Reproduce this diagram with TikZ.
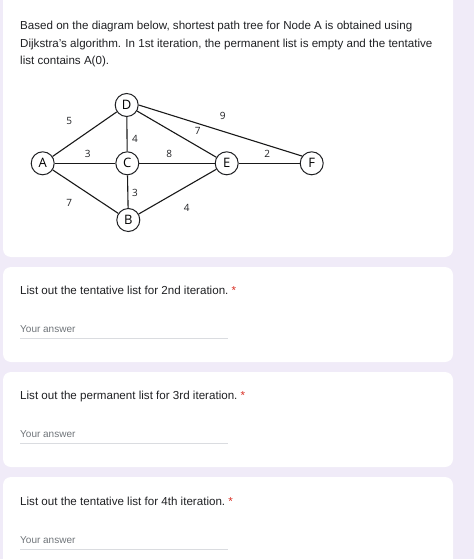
\documentclass[tikz,border=0pt]{standalone}
\usepackage{fontspec}
\setmainfont{Liberation Sans}
\newfontfamily\graphfont{Open Sans}
\usetikzlibrary{positioning}
\definecolor{formbg}{RGB}{240,235,248}
\definecolor{qtext}{RGB}{32,33,36}
\definecolor{hintgray}{RGB}{112,117,122}
\definecolor{rulegray}{RGB}{218,220,224}
\definecolor{starred}{RGB}{217,48,37}
\tikzset{
card/.style={
  fill=white,
  draw=none,
  rounded corners=8pt
  },
qline/.style={
  anchor=base west,
  inner sep=0pt,
  text=qtext,
  font=\fontsize{11.6}{13}\selectfont
  },
hint/.style={
  anchor=base west,
  inner sep=0pt,
  text=hintgray,
  font=\fontsize{10}{12}\selectfont
  },
vtx/.style={
  circle,
  draw=qtext,
  line width=1pt,
  fill=white,
  minimum size=23pt,
  inner sep=0pt,
  font=\graphfont\fontsize{13}{13}\selectfont
  },
wt/.style={
  inner sep=0pt,
  text=qtext,
  font=\graphfont\fontsize{10}{10}\selectfont
  },
edge/.style={
  draw=black!90,
  line width=1.1pt
  }
}
\newcommand{\req}{~\textcolor{starred}{*}}

\begin{document}
\begin{tikzpicture}[x=1pt,y=-1pt]
\useasboundingbox (0,0) rectangle (474,559);
\fill[formbg] (0,0) rectangle (474,559);

\fill[card] (3,-10) rectangle (453,257);
\fill[card] (3,267) rectangle (453,362);
\fill[card] (3,372) rectangle (453,467);
\fill[card] (3,477) rectangle (453,575);

\node[qline] (intro1) at (20,29.3) {Based on the diagram below, shortest path tree for Node A is obtained using};
\node[qline] (intro2) at (20,47.7) {Dijkstra's algorithm. In 1st iteration, the permanent list is empty and the tentative};
\node[qline] (intro3) at (20,64.3) {list contains A(0).};

\begin{scope}
\node[vtx] (D) at (126.7,105) {D};
\node[vtx] (A) at (42.7,163.3) {A};
\node[vtx] (C) at (127.3,163.3) {C};
\node[vtx] (E) at (226.7,163.3) {E};
\node[vtx] (F) at (311.7,163.3) {F};
\node[vtx] (B) at (128.3,220) {B};

\draw[edge] (A) -- (D);
\draw[edge] (A) -- (C);
\draw[edge] (A) -- (B);
\draw[edge] (D) -- (C);
\draw[edge] (D) -- (E);
\draw[edge] (D.east) -- (F.143);
\draw[edge] (C) -- (E);
\draw[edge] (C) -- (B);
\draw[edge] (B) -- (E);
\draw[edge] (E) -- (F);

\node[wt] (wAD) at (69.3,121) {5};
\node[wt] (wAC) at (87.7,154) {3};
\node[wt] (wDC) at (135,139) {4};
\node[wt] (wCE) at (169.3,154) {8};
\node[wt] (wDE) at (197.7,131) {7};
\node[wt] (wDF) at (222.7,115.5) {9};
\node[wt] (wEF) at (267.3,154) {2};
\node[wt] (wCB) at (135,193.3) {3};
\node[wt] (wAB) at (69.3,203.3) {7};
\node[wt] (wBE) at (186.7,207.7) {4};
\end{scope}

\node[qline] (q2) at (20,294.3) {List out the tentative list for 2nd iteration.\req};
\node[hint] (a2) at (20,332.3) {Your answer};
\coordinate[below=6pt of a2.base west] (a2l);
\draw[rulegray, line width=0.6pt] (a2l) -- ++(208,0);

\node[qline] (q3) at (20,399.3) {List out the permanent list for 3rd iteration.\req};
\node[hint] (a3) at (20,437.3) {Your answer};
\coordinate[below=6pt of a3.base west] (a3l);
\draw[rulegray, line width=0.6pt] (a3l) -- ++(208,0);

\node[qline] (q4) at (20,505.3) {List out the tentative list for 4th iteration.\req};
\node[hint] (a4) at (20,543.3) {Your answer};
\coordinate[below=6pt of a4.base west] (a4l);
\draw[rulegray, line width=0.6pt] (a4l) -- ++(208,0);

\end{tikzpicture}
\end{document}
